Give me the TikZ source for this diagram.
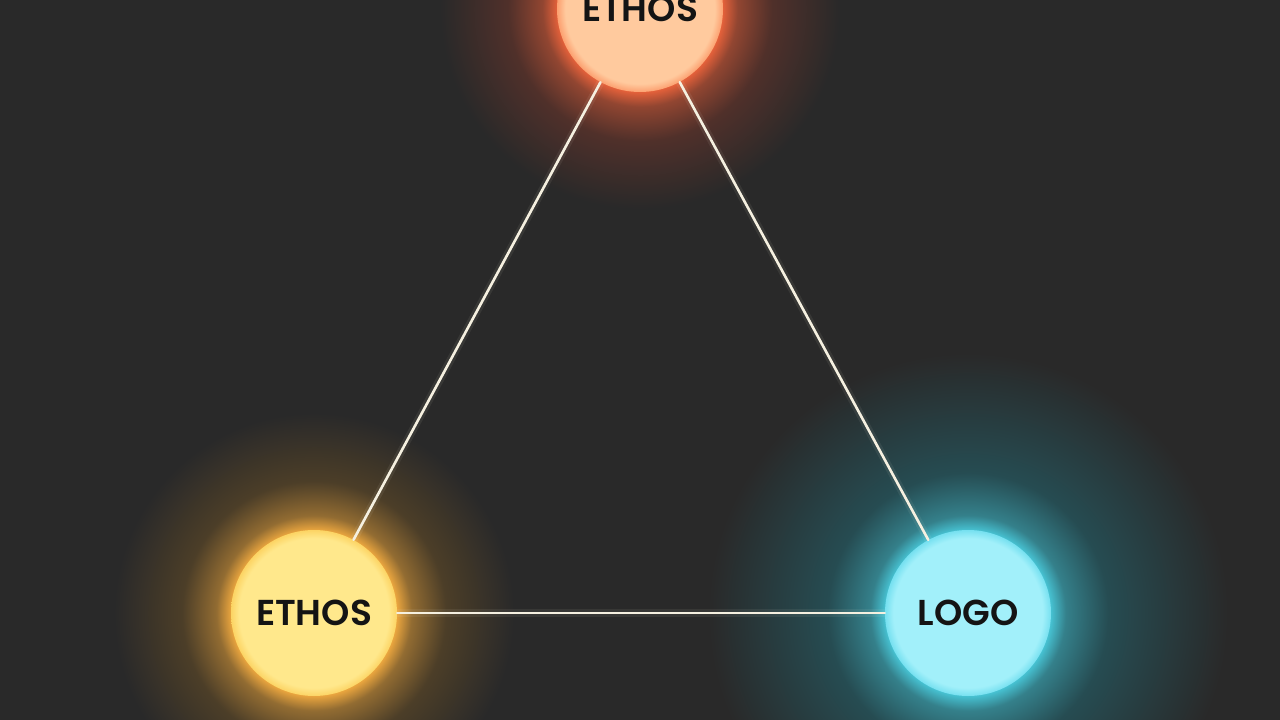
\documentclass[tikz,border=0pt]{standalone}
\usepackage{fontspec}
\newfontfamily\labelfont{Poppins}[BoldFont={Poppins SemiBold}]
\usepackage{xcolor}
\usepackage{tikz}

\definecolor{bgcol}{RGB}{41,41,41}
\definecolor{tophalo}{RGB}{226,96,58}
\definecolor{topdim}{RGB}{80,48,42}
\definecolor{lefthalo}{RGB}{232,164,62}
\definecolor{leftdim}{RGB}{76,62,40}
\definecolor{righthalo}{RGB}{70,192,208}
\definecolor{rightdim}{RGB}{38,76,82}
\definecolor{topfill}{RGB}{255,202,158}
\definecolor{toprim}{RGB}{252,160,112}
\definecolor{leftfill}{RGB}{255,232,140}
\definecolor{leftrim}{RGB}{252,212,100}
\definecolor{rightfill}{RGB}{162,240,250}
\definecolor{rightrim}{RGB}{118,224,240}
\definecolor{linecol}{RGB}{245,240,224}
\definecolor{ink}{RGB}{20,20,20}

%radius of a shaded circle sits at 25bp
\pgfdeclareradialshading{glowtop}{\pgfpoint{0bp}{0bp}}{color(0bp)=(tophalo); color(10.4bp)=(tophalo); color(12.2bp)=(tophalo!45!topdim); color(16.5bp)=(topdim); color(25bp)=(bgcol); color(50bp)=(bgcol)}
\pgfdeclareradialshading{glowleft}{\pgfpoint{0bp}{0bp}}{color(0bp)=(lefthalo); color(10.4bp)=(lefthalo); color(12.2bp)=(lefthalo!45!leftdim); color(16.5bp)=(leftdim); color(25bp)=(bgcol); color(50bp)=(bgcol)}
\pgfdeclareradialshading{glowright}{\pgfpoint{0bp}{0bp}}{color(0bp)=(righthalo); color(8bp)=(righthalo); color(9.4bp)=(righthalo!45!rightdim); color(13.5bp)=(rightdim); color(25bp)=(bgcol); color(50bp)=(bgcol)}
\pgfdeclareradialshading{balltop}{\pgfpoint{0bp}{0bp}}{color(0bp)=(topfill); color(22.5bp)=(topfill); color(25bp)=(toprim); color(50bp)=(toprim)}
\pgfdeclareradialshading{ballleft}{\pgfpoint{0bp}{0bp}}{color(0bp)=(leftfill); color(22.5bp)=(leftfill); color(25bp)=(leftrim); color(50bp)=(leftrim)}
\pgfdeclareradialshading{ballright}{\pgfpoint{0bp}{0bp}}{color(0bp)=(rightfill); color(22.5bp)=(rightfill); color(25bp)=(rightrim); color(50bp)=(rightrim)}

\begin{document}
\begin{tikzpicture}[x=1pt,y=-1pt,
	ball/.style={circle,minimum size=166pt,inner sep=0pt,text=ink,
		font=\labelfont\bfseries\fontsize{36}{42}\selectfont},
	link/.style={line width=2.6pt,draw=linecol,line cap=round},
	linkglow/.style={line width=8pt,draw=linecol,opacity=.07}]
		%frame
		\useasboundingbox (0,0) rectangle (1280,720);
		\clip (0,0) rectangle (1280,720);
		%wall
		\fill[bgcol] (0,0) rectangle (1280,720);
		%glows
		\shade[shading=glowtop] (640,9) circle (200);
		\shade[shading=glowleft] (314,613) circle (200);
		\shade[shading=glowright] (968,613) circle (260);
		
		%balls
		\node[ball,shading=balltop] (ethostop) at (640,9) {ETHOS};
		\node[ball,shading=ballleft] (ethosleft) at (314,613) {ETHOS};
		\node[ball,shading=ballright] (logo) at (968,613) {LOGO};
		
		%links
		\draw[linkglow] (ethostop) -- (ethosleft);
		\draw[linkglow] (ethostop) -- (logo);
		\draw[linkglow] (ethosleft) -- (logo);
		\draw[link] (ethostop) -- (ethosleft);
		\draw[link] (ethostop) -- (logo);
		\draw[link] (ethosleft) -- (logo);
	\end{tikzpicture}
\end{document}
